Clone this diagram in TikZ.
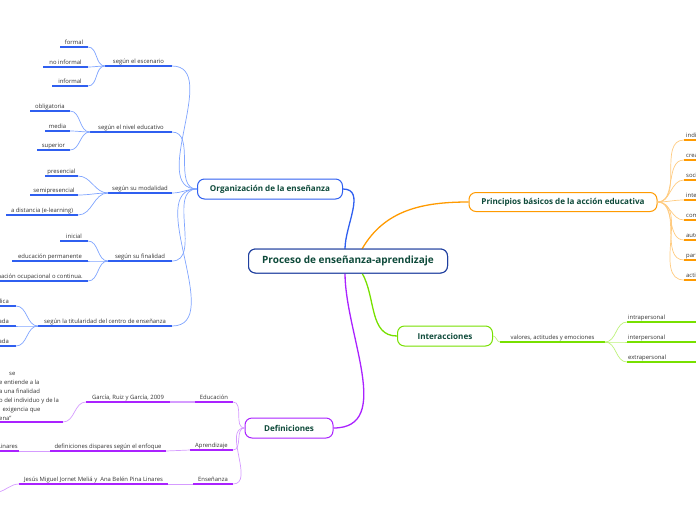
\documentclass[tikz,border=0pt]{standalone}
\usepackage{fontspec}
\setmainfont{Open Sans}
\definecolor{bt}{HTML}{2F5FF0}\definecolor{bl}{HTML}{7FA4FF}
\definecolor{ot}{HTML}{FF9A00}\definecolor{ol}{HTML}{FFCB80}
\definecolor{gt}{HTML}{77E000}\definecolor{gl}{HTML}{BDF27A}
\definecolor{pt}{HTML}{AA22FF}\definecolor{pl}{HTML}{D59BFF}
\definecolor{tx}{HTML}{0E4A3A}\definecolor{cb}{HTML}{1F3F9F}
\tikzset{
 lbl/.style={font=\fontsize{5.9}{6.5}\selectfont,text=black!80,inner sep=0pt,anchor=base},
 box/.style={draw,line width=1pt,rounded corners=7pt,fill=white,font=\fontsize{8.1}{9}\selectfont\bfseries,text=tx,inner xsep=6pt},
}
% \leaf{name}{x1}{x2}{y}{text}{thick colour}
\newcommand\leaf[6]{%
 \draw[#6,line width=1.4pt] (#2,#4) coordinate (#1-l) -- (#3,#4) coordinate (#1-r);
 \node[lbl] (#1) at ({(#2+#3)/2},{#4-3}) {#5};}
\begin{document}
\begin{tikzpicture}[x=1pt,y=-1pt]
\useasboundingbox (0,0) rectangle (696,520);
\clip (0,0) rectangle (696,520);
% main boxes
\node[box,draw=cb,minimum width=199pt,minimum height=24pt,font=\fontsize{10}{11}\selectfont\bfseries] (c) at (348,261) {Proceso de enseñanza-aprendizaje};
\node[box,draw=bt,minimum width=145pt,minimum height=20pt] (org) at (270,189) {Organización de la enseñanza};
\node[box,draw=ot,minimum width=188pt,minimum height=19pt] (pri) at (563,202) {Principios básicos de la acción educativa};
\node[box,draw=gt,minimum width=95pt,minimum height=20pt] (int) at (445,336) {Interacciones};
\node[box,draw=pt,minimum width=88pt,minimum height=20pt] (def) at (289,428) {Definiciones};
\draw[bt,line width=1.3pt] (345,249) to[out=90,in=0] (org.east);
\draw[ot,line width=1.3pt] (362,249) to[out=60,in=180] (pri.west);
\draw[gt,line width=1.3pt] (362,273) to[out=-60,in=180] (int.west);
\draw[pt,line width=1.3pt] (345,273) to[out=-90,in=0] (def.east);
\node[box,draw=cb,minimum width=199pt,minimum height=24pt,font=\fontsize{10}{11}\selectfont\bfseries] (c2) at (348,261) {Proceso de enseñanza-aprendizaje};
% blue
\leaf{s1}{105}{172}{66}{según el escenario}{bt}
\leaf{s2}{90}{172}{132}{según el nivel educativo}{bt}
\leaf{s3}{108}{172}{193}{según su modalidad}{bt}
\leaf{s4}{108}{172}{261}{según su finalidad}{bt}
\leaf{s5}{38}{172}{326}{según la titularidad del centro de enseñanza}{bt}
\foreach \s in {s1,s2,s3,s4,s5}{\draw[bl,line width=0.7pt] (org.west) to[out=180,in=0] (\s-r);}
\leaf{a1}{60}{88}{47}{formal}{bt}
\leaf{a2}{43}{88}{67}{no informal}{bt}
\leaf{a3}{52}{88}{86}{informal}{bt}
\foreach \s in {a1,a2,a3}{\draw[bl,line width=0.7pt] (s1-l) to[out=180,in=0] (\s-r);}
\leaf{b1}{30}{70}{111}{obligatoria}{bt}
\leaf{b2}{45}{70}{131}{media}{bt}
\leaf{b3}{37}{70}{150}{superior}{bt}
\foreach \s in {b1,b2,b3}{\draw[bl,line width=0.7pt] (s2-l) to[out=180,in=0] (\s-r);}
\leaf{m1}{45}{78}{176}{presencial}{bt}
\leaf{m2}{30}{78}{195}{semipresencial}{bt}
\leaf{m3}{6}{78}{215}{a distancia (e-learning)}{bt}
\foreach \s in {m1,m2,m3}{\draw[bl,line width=0.7pt] (s3-l) to[out=180,in=0] (\s-r);}
\leaf{f1}{60}{88}{241}{inicial}{bt}
\leaf{f2}{12}{88}{261}{educación permanente}{bt}
\leaf{f3}{-10}{88}{281}{}{bt}
\node[lbl,anchor=base east] (f3t) at (83,278) {formación ocupacional o continua.};
\foreach \s in {f1,f2,f3}{\draw[bl,line width=0.7pt] (s4-l) to[out=180,in=0] (\s-r);}
\leaf{t1}{-10}{16}{306}{}{bt}
\leaf{t2}{-10}{16}{326}{}{bt}
\leaf{t3}{-10}{16}{346}{}{bt}
\node[lbl,anchor=base east] (t1t) at (9,303) {pública};
\node[lbl,anchor=base east] (t2t) at (9,323) {privada};
\node[lbl,anchor=base east] (t3t) at (9,343) {concertada};
\foreach \s in {t1,t2,t3}{\draw[bl,line width=0.7pt] (s5-l) to[out=180,in=0] (\s-r);}
% orange
\foreach \y/\w [count=\i] in {140/individualización,160/creatividad,180/socialización,200/integración,220/comunicación,240/autonomía,260/participación,280/actividad}{
 \draw[ot,line width=1.4pt] (684,\y) coordinate (o\i) -- (700,\y);
 \node[lbl,anchor=base west] (ot\i) at (686,\y-3) {\w};
 \draw[ol,line width=0.7pt] (pri.east) to[out=0,in=180] (o\i);}
% green
\leaf{v}{500}{605}{342}{valores, actitudes y emociones}{gt}
\draw[gl,line width=0.7pt] (int.east) to[out=0,in=180] (v-l);
\foreach \y/\w [count=\i] in {322/intrapersonal,342/interpersonal,362/extrapersonal}{
 \draw[gt,line width=1.4pt] (627,\y) coordinate (g\i) -- (700,\y);
 \node[lbl,anchor=base west] (gt\i) at (628,\y-3) {\w};
 \draw[gl,line width=0.7pt] (v-r) to[out=0,in=180] (g\i);}
% purple
\leaf{d1}{195}{233}{402}{Educación}{pt}
\leaf{d2}{190}{233}{450}{Aprendizaje}{pt}
\leaf{d3}{193}{233}{484}{Enseñanza}{pt}
\foreach \s in {d1,d2,d3}{\draw[pl,line width=0.7pt] (def.west) to[out=180,in=0] (\s-r);}
\leaf{e1}{86}{170}{402}{García, Ruiz y García, 2009}{pt}
\draw[pl,line width=1.4pt] (e1-r) -- (d1-l);
\leaf{e2}{50}{166}{451}{definiciones dispares según el enfoque}{pt}
\draw[pl,line width=0.7pt] (e2-r) -- (d2-l);
\leaf{e3}{19}{168}{484}{Jesús Miguel Jornet Meliá y \ Ana Belén Pina Linares}{pt}
\draw[pl,line width=0.7pt] (e3-r) -- (d3-l);
\leaf{q}{-10}{63}{422}{}{pt}
\draw[pl,line width=0.7pt] (e1-l) to[out=180,in=0] (q-r);
\begin{scope}[every node/.style={lbl,anchor=base west}]
\node (q1) at (9,375) {se};
\node (q2) at (-1,384) {e entiende a la};
\node (q3) at (-1,393) {a una finalidad};
\node (q4) at (-1,402) {o del individuo y de la};
\node (q5) at (1,411) {\ exigencia que};
\node (q6) at (-1,420) {ena"};
\end{scope}
\leaf{r}{-10}{19}{451}{}{pt}
\node[lbl,anchor=base east] (rt) at (18,448) {Linares};
\draw[pl,line width=0.7pt] (e2-l) -- (r-r);
\coordinate (z) at (-2,492);
\draw[pl,line width=0.7pt] (e3-l) to[out=180,in=10] (z);
\end{tikzpicture}
\end{document}
